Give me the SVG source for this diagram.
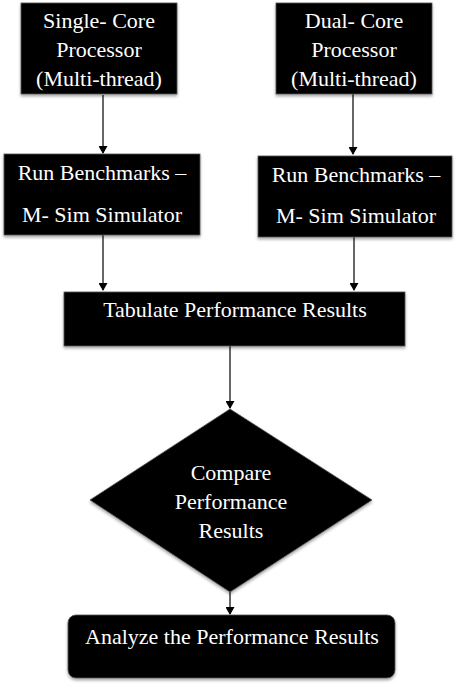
<svg xmlns="http://www.w3.org/2000/svg" width="456" height="686" viewBox="0 0 456 686">
<style>
.n{fill:#000;stroke:#555;stroke-width:0.8;filter:url(#sh)}
.t{fill:#fff;font-family:"Liberation Serif","Times New Roman",serif;font-size:22px;text-anchor:middle}
.c{stroke:#000;stroke-width:1.2;fill:none;marker-end:url(#ah)}
</style>
<defs>
<marker id="ah" markerWidth="8" markerHeight="9" refX="7" refY="4.5" orient="auto" markerUnits="userSpaceOnUse">
<path d="M0,0 L8,4.5 L0,9 Z" fill="#000"/>
</marker>
<filter id="sh" x="-10%" y="-10%" width="120%" height="130%">
<feDropShadow dx="0" dy="2" stdDeviation="1.5" flood-color="#000" flood-opacity="0.35"/>
</filter>
</defs>
<rect width="456" height="686" fill="#fff"/>
<g id="connectors">
<line class="c" x1="103" y1="95" x2="103" y2="153"/>
<line class="c" x1="353" y1="94" x2="353" y2="154"/>
<line class="c" x1="103" y1="235" x2="103" y2="290"/>
<line class="c" x1="354" y1="237" x2="354" y2="290"/>
<line class="c" x1="230" y1="346" x2="230" y2="408"/>
<line class="c" x1="230" y1="592" x2="230" y2="614"/>
</g>
<g id="single-core">
<rect class="n" x="21" y="3" width="156" height="91"/>
<text class="t" x="99" y="28">Single- Core</text>
<text class="t" x="99" y="57">Processor</text>
<text class="t" x="99" y="86">(Multi-thread)</text>
</g>
<g id="dual-core">
<rect class="n" x="276" y="3" width="156" height="91"/>
<text class="t" x="354" y="28">Dual- Core</text>
<text class="t" x="354" y="57">Processor</text>
<text class="t" x="354" y="86">(Multi-thread)</text>
</g>
<g id="bench-left">
<rect class="n" x="4" y="154" width="196" height="81"/>
<text class="t" x="102" y="180">Run Benchmarks –</text>
<text class="t" x="102" y="222">M- Sim Simulator</text>
</g>
<g id="bench-right">
<rect class="n" x="258" y="156" width="194" height="81"/>
<text class="t" x="356" y="182">Run Benchmarks –</text>
<text class="t" x="356" y="223">M- Sim Simulator</text>
</g>
<g id="tabulate">
<rect class="n" x="64" y="292" width="341" height="54"/>
<text class="t" x="235" y="317">Tabulate Performance Results</text>
</g>
<g id="compare">
<polygon class="n" points="230,409 372,500 230,592 90,500"/>
<text class="t" x="231" y="480">Compare</text>
<text class="t" x="231" y="509">Performance</text>
<text class="t" x="231" y="538">Results</text>
</g>
<g id="analyze">
<rect class="n" x="68" y="615" width="327" height="63" rx="8"/>
<text class="t" x="232" y="644">Analyze the Performance Results</text>
</g>
</svg>
